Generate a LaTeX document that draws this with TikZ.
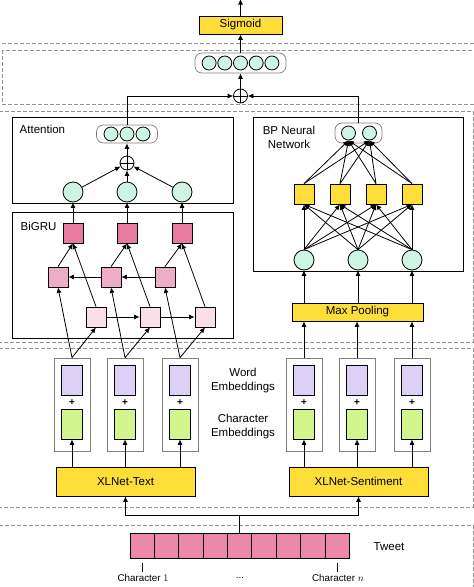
\documentclass[tikz,border=0pt]{standalone}
\usepackage{fontspec}
\setmainfont{Liberation Sans}
\usetikzlibrary{arrows.meta}
\definecolor{gold}{RGB}{255,222,58}
\definecolor{mint}{RGB}{206,244,228}
\definecolor{rosedark}{RGB}{232,122,160}
\definecolor{rosemid}{RGB}{240,172,198}
\definecolor{roselight}{RGB}{250,222,234}
\definecolor{lilac}{RGB}{221,208,246}
\definecolor{lime}{RGB}{212,245,142}
\definecolor{tweetpink}{RGB}{236,136,170}

\tikzset{
  layer/.style={draw=gray!85, dashed, dash pattern=on 4pt off 2pt, line width=0.8pt},
  panel/.style={draw, line width=0.8pt},
  ybox/.style={draw, fill=gold, line width=0.8pt, inner sep=0pt},
  unit/.style={circle, draw, fill=mint, line width=0.8pt, minimum size=20pt, inner sep=0pt},
  dot/.style={circle, draw, fill=mint, line width=0.8pt, minimum size=14pt, inner sep=0pt},
  grp/.style={draw=gray, rounded corners=7pt, line width=0.7pt, inner sep=0pt},
  cell/.style={draw, line width=0.8pt, minimum size=20pt, inner sep=0pt},
  emb/.style={draw, line width=0.8pt, minimum width=21pt, minimum height=30pt, inner sep=0pt},
  col/.style={draw=gray, line width=0.8pt, minimum width=36pt, minimum height=93pt, inner sep=0pt},
  plus/.style={circle, draw, line width=0.8pt, minimum size=14pt, inner sep=0pt,
    path picture={\draw (path picture bounding box.north) -- (path picture bounding box.south)
      (path picture bounding box.west) -- (path picture bounding box.east);}},
}

\begin{document}
\begin{tikzpicture}[x=1pt, y=-1pt, line width=0.8pt, >={Latex[length=5.5pt,width=5pt]},
  font=\fontsize{11.5}{14}\selectfont]
    \clip (0,0) rectangle (474,587);

    % Layers
    \draw[layer] (-5,-10) rectangle (480,43);
    \draw[layer] (2,50) rectangle (480,104);
    \draw[layer] (-5,111) rectangle (473,342);
    \draw[layer] (-5,348) rectangle (473,507);
    \draw[layer] (-5,525) rectangle (473,600);

    % Output
    \coordinate (top) at (240.5,-1);
    \node[ybox, minimum width=83pt, minimum height=18pt] (sig) at (240.5,25) {Sigmoid};
    \node[grp, minimum width=91pt, minimum height=20pt] (fgrp) at (240.5,63) {};
    \foreach \i in {1,...,5}
        \node[dot] (f\i) at ({240.5+(\i-3)*15.7},63) {};
    \node[plus] (fplus) at (240.5,96) {};
    \draw[->] (fplus) -- (fgrp);
    \draw[->] (fgrp) -- (sig);
    \draw[->] (sig) -- (top);

    % Attention
    \draw[panel] (12,117) rectangle (233,203);
    \node[anchor=west] at (16,129) {Attention};
    \node[grp, minimum width=61pt, minimum height=18pt] (agrp) at (127,134) {};
    \foreach \i/\x in {1/111,2/127,3/143}
        \node[dot] (ad\i) at (\x,134) {};
    \node[plus] (aplus) at (127,163) {};
    \draw[->] (aplus) -- (agrp);
    \foreach \i/\x in {1/73,2/127,3/182} {
        \node[unit] (a\i) at (\x,192) {};
        \draw[->] (a\i) -- (aplus);
    }

    % BiGRU
    \draw[panel] (12,212) rectangle (233,338);
    \node[anchor=west] at (17,226) {BiGRU};
    \foreach \i/\x/\y/\z in {1/73/58/96, 2/127/111/150, 3/182/165/205} {
        \node[cell, fill=rosedark] (h\i) at (\x,233) {};
        \node[cell, fill=rosemid] (b\i) at (\y,277) {};
        \node[cell, fill=roselight] (g\i) at (\z,317) {};
        \draw[->] (h\i) -- (a\i);
        \draw[->] (b\i.north) -- (h\i.south);
        \draw[->] (g\i.north) -- (h\i.south);
    }
    \draw[->] (b3) -- (b2);
    \draw[->] (b2) -- (b1);
    \draw[->] (g1) -- (g2);
    \draw[->] (g2) -- (g3);

    % BP neural network
    \draw[panel] (253,117) rectangle (463,271);
    \node[align=center] at (289,137) {BP Neural\\Network};
    \node[grp, minimum width=47pt, minimum height=20pt] (bgrp) at (358.5,133) {};
    \foreach \i/\x in {1/348.5,2/369.5}
        \node[dot] (o\i) at (\x,133) {};
    \foreach \j/\x in {1/304,2/340,3/376,4/412}
        \node[cell, fill=gold] (s\j) at (\x,194) {};
    \foreach \i/\x in {1/304,2/358,3/412}
        \node[unit] (n\i) at (\x,260) {};
    \foreach \i in {1,2,3}
        \foreach \j in {1,...,4}
            \draw[->] (n\i.north) -- (s\j.south);
    \foreach \j in {1,...,4}
        \foreach \k in {1,2}
            \draw[->] (s\j.north) -- (o\k.south);
    \node[ybox, minimum width=131pt, minimum height=18pt] (pool) at (357.5,312) {Max Pooling};
    \foreach \i in {1,2,3}
        \draw[->] (pool.north -| n\i) -- (n\i);

    % Fusion
    \draw[->] (agrp.north) |- (fplus.west);
    \draw[->] (bgrp.north) |- (fplus.east);

    % Embeddings
    \node[ybox, minimum width=139pt, minimum height=29pt] (xt) at (125.5,481.5) {XLNet-Text};
    \node[ybox, minimum width=139pt, minimum height=29pt] (xs) at (358.5,481.5) {XLNet-Sentiment};
    \foreach \i/\x in {1/72,2/125,3/180,4/304,5/357,6/412} {
        \node[col] (c\i) at (\x,404.5) {};
        \node[emb, fill=lilac] (w\i) at (\x,380) {};
        \node[font=\bfseries] at (\x,402.5) {+};
        \node[emb, fill=lime] (ch\i) at (\x,424) {};
    }
    \foreach \i in {1,2,3} {
        \draw[->] (c\i.north) -- (b\i.south);
        \draw[->] (c\i.north) -- (g\i.south);
        \draw[->] (ch\i.south |- xt.north) -- (ch\i.south);
    }
    \foreach \i in {4,5,6} {
        \draw[->] (c\i.north) -- (c\i.north |- pool.south);
        \draw[->] (ch\i.south |- xs.north) -- (ch\i.south);
    }
    \node[align=center] at (243,381) {Word\\Embeddings};
    \node[align=center] at (243,427) {Character\\Embeddings};

    % Tweet
    \foreach \i in {1,...,9}
        \node[draw, fill=tweetpink, line width=0.6pt, minimum width=24.35pt, minimum height=25pt,
          inner sep=0pt] (t\i) at ({130+24.35*(\i-0.5)},545.5) {};
    \node at (389,547) {Tweet};
    \coordinate (split) at (t5.north |- 0,515);
    \draw (t5.north) -- (split);
    \draw[->] (split) -| (xt.south);
    \draw[->] (split) -| (xs.south);
    \draw[line width=0.6pt] (t1.south) ++(0,5) coordinate (k1) -- ++(0,9);
    \draw[line width=0.6pt] (t9.south) ++(0,5) coordinate (k9) -- ++(0,9);
    \node[font=\fontsize{9.8}{12}\selectfont] at (143,578) {Character $1$};
    \node[font=\fontsize{9.8}{12}\selectfont] at (240,578) {...};
    \node[font=\fontsize{9.8}{12}\selectfont] at (338,578) {Character $n$};
\end{tikzpicture}
\end{document}
